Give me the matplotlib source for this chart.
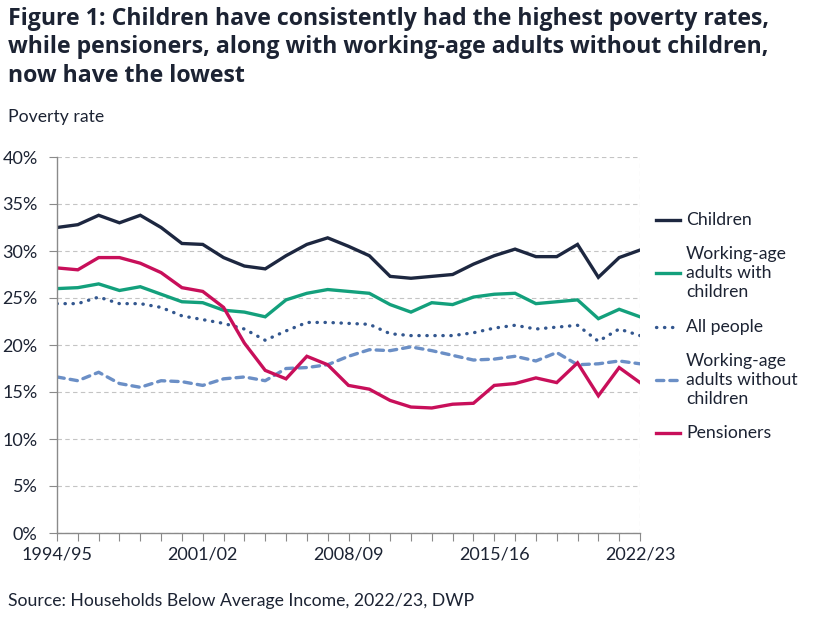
import matplotlib
matplotlib.use("Agg")
import matplotlib.pyplot as plt
from matplotlib.lines import Line2D
import numpy as np

# financial years 1994/95 .. 2022/23
years = [f"{y}/{(y + 1) % 100:02d}" for y in range(1994, 2023)]

children = [32.5, 32.8, 33.8, 33.0, 33.8, 32.5, 30.8, 30.7, 29.3, 28.4,
            28.1, 29.5, 30.7, 31.4, 30.5, 29.5, 27.3, 27.1, 27.3, 27.5,
            28.6, 29.5, 30.2, 29.4, 29.4, 30.7, 27.2, 29.3, 30.1]
wa_with_children = [26.0, 26.1, 26.5, 25.8, 26.2, 25.4, 24.6, 24.5, 23.7, 23.5,
                    23.0, 24.8, 25.5, 25.9, 25.7, 25.5, 24.3, 23.5, 24.5, 24.3,
                    25.1, 25.4, 25.5, 24.4, 24.6, 24.8, 22.8, 23.8, 23.0]
all_people = [24.4, 24.4, 25.1, 24.4, 24.4, 24.0, 23.1, 22.7, 22.3, 21.7,
              20.5, 21.5, 22.4, 22.4, 22.3, 22.2, 21.2, 21.0, 21.0, 21.0,
              21.3, 21.8, 22.1, 21.7, 21.9, 22.1, 20.4, 21.7, 21.0]
wa_without_children = [16.6, 16.2, 17.1, 15.9, 15.5, 16.2, 16.1, 15.7, 16.4, 16.6,
                       16.2, 17.5, 17.6, 17.9, 18.8, 19.5, 19.4, 19.8, 19.4, 18.9,
                       18.4, 18.5, 18.8, 18.3, 19.2, 17.9, 18.0, 18.3, 18.0]
pensioners = [28.2, 28.0, 29.3, 29.3, 28.7, 27.7, 26.1, 25.7, 24.0, 20.2,
              17.3, 16.4, 18.8, 17.9, 15.7, 15.3, 14.1, 13.4, 13.3, 13.7,
              13.8, 15.7, 15.9, 16.5, 16.0, 18.1, 14.6, 17.6, 16.0]

labels = ["Children", "Working-age\nadults with\nchildren", "All people",
          "Working-age\nadults without\nchildren", "Pensioners"]

NAVY = "#1d2740"
GREEN = "#13a07c"
DOT_BLUE = "#33578f"
DASH_BLUE = "#6b8fc6"
PINK = "#c80f5a"
TEXT = "#1c2333"
GRID = "#c4c4c4"

plt.rcParams["font.family"] = ["Lato", "DejaVu Sans"]

fig = plt.figure(figsize=(8.19, 6.17), dpi=100)
ax = fig.add_axes([57 / 819, 1 - 533 / 617, (640 - 57) / 819, (533 - 157) / 617])

x = np.arange(len(years))
lw = 2.4
series = [
    (children, dict(color=NAVY, lw=lw, ls="-")),
    (wa_with_children, dict(color=GREEN, lw=lw, ls="-")),
    (all_people, dict(color=DOT_BLUE, lw=lw, ls=(0, (0.1, 2.3)), dash_capstyle="round")),
    (wa_without_children, dict(color=DASH_BLUE, lw=lw, ls=(0, (2.2, 1.8)), dash_capstyle="round")),
    (pensioners, dict(color=PINK, lw=lw, ls="-")),
]
# draw in reference stacking order
for vals, style in [series[3], series[2], series[1], series[0], series[4]]:
    ax.plot(x, vals, solid_joinstyle="miter", **style)

ax.set_xlim(0, len(years) - 1)
ax.set_ylim(0, 40)
ax.set_yticks(range(0, 41, 5))
ax.set_yticklabels([f"{v}%" for v in range(0, 41, 5)])
ax.set_xticks(x)
ax.set_xticklabels([yr if i % 7 == 0 else "" for i, yr in enumerate(years)])

ax.grid(axis="y", color=GRID, ls=(0, (4, 3)), lw=0.8)
ax.axvline(len(years) - 1, color=GRID, ls=(0, (4, 3)), lw=0.8)
for side in ["top", "right"]:
    ax.spines[side].set_visible(False)
for side in ["left", "bottom"]:
    ax.spines[side].set_color("#8a8a8a")
    ax.spines[side].set_linewidth(1.0)
ax.tick_params(axis="x", length=6, color="#8a8a8a", labelsize=13, labelcolor=TEXT, pad=4)
ax.tick_params(axis="y", length=6, color="#8a8a8a", labelsize=13, labelcolor=TEXT, pad=8)

# legend drawn beside the line ends
legend_y = [220, 273, 327, 380, 433]
for (vals, style), lab, ly in zip(series, labels, legend_y):
    yf = 1 - ly / 617
    fig.add_artist(Line2D([656 / 819, 680 / 819], [yf, yf], transform=fig.transFigure, **style))
    fig.text(686 / 819, yf, lab, fontsize=12.7, color=TEXT, va="center", ha="left",
             linespacing=1.25)

fig.text(8 / 819, 1 - 7 / 617,
         "Figure 1: Children have consistently had the highest poverty rates,\n"
         "while pensioners, along with working-age adults without children,\n"
         "now have the lowest",
         fontsize=16.7, fontweight="bold", color=TEXT, va="top", ha="left",
         linespacing=1.24, family=["Open Sans", "DejaVu Sans"])
fig.text(8 / 819, 1 - 117 / 617, "Poverty rate", fontsize=12.7, color=TEXT, va="center")
fig.text(8 / 819, 1 - 601 / 617, "Source: Households Below Average Income, 2022/23, DWP",
         fontsize=12.7, color=TEXT, va="center")

fig.savefig("out.png", dpi=100, facecolor="white")
